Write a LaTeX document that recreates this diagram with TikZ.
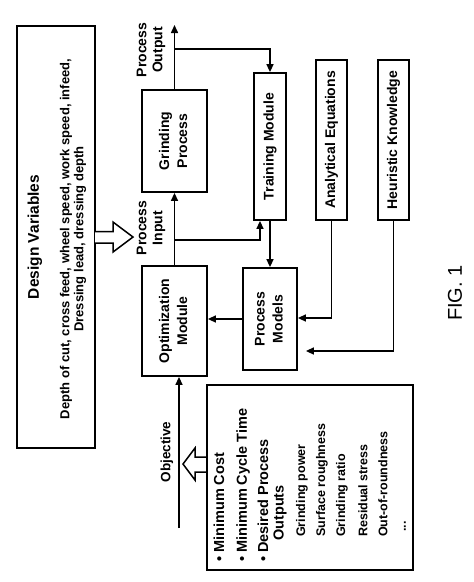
\documentclass[tikz,border=0pt]{standalone}
\usepackage{fontspec}
\setmainfont{Liberation Sans}
\usetikzlibrary{arrows.meta}
\begin{document}
\begin{tikzpicture}[x=1pt,y=-1pt,
  box/.style={draw, line width=1.8pt, inner sep=0pt, align=center,
    font=\bfseries\fontsize{14}{18}\selectfont},
  conn/.style={line width=1.5pt, -{Triangle[length=8pt,width=7pt]}},
  hollow/.style={line width=1.5pt, fill=white, line join=miter},
  rtext/.style={rotate=90, inner sep=0pt, align=center,
    font=\bfseries\fontsize{14}{16}\selectfont},
  litem/.style={rotate=90, inner sep=0pt, anchor=west,
    font=\bfseries\fontsize{14.5}{16}\selectfont},
  sitem/.style={rotate=90, inner sep=0pt, anchor=west,
    font=\bfseries\fontsize{12.5}{14}\selectfont}]
\useasboundingbox (0,0) rectangle (474,582);

% Design variables box
\node[box, minimum width=78pt, minimum height=422pt] (dv) at (56,237) {};
\node[rtext, font=\bfseries\fontsize{15.5}{17}\selectfont] (dvt) at (35,237) {Design Variables};
\node[rtext, font=\bfseries\fontsize{13}{14}\selectfont] (dvd) at (73,239)
  {Depth of cut, cross feed, wheel speed, work speed, infeed,\\Dressing lead, dressing depth};
\draw[hollow] (95,231.5) -- (113,231.5) -- (113,222) -- (133,237) -- (113,252) -- (113,243) -- (95,243);

% Main boxes
\node[box, minimum width=65pt, minimum height=102pt] (go) at (174.5,141)
  {\rotatebox{90}{\begin{tabular}{@{}c@{}}Grinding\\Process\end{tabular}}};
\node[box, minimum width=65pt, minimum height=110pt] (om) at (174.5,321)
  {\rotatebox{90}{\begin{tabular}{@{}c@{}}Optimization\\Module\end{tabular}}};
\node[box, minimum width=32pt, minimum height=147pt] (tm) at (270,146.5)
  {\rotatebox{90}{Training Module}};
\node[box, minimum width=54pt, minimum height=102pt] (pm) at (270,319)
  {\rotatebox{90}{\begin{tabular}{@{}c@{}}Process\\Models\end{tabular}}};
\node[box, minimum width=31pt, minimum height=160pt] (ae) at (331.5,140)
  {\rotatebox{90}{Analytical Equations}};
\node[box, minimum width=31pt, minimum height=160pt] (hk) at (393.5,140)
  {\rotatebox{90}{Heuristic Knowledge}};

% Labels
\node[rtext] (polab) at (151,50) {Process\\Output};
\node[rtext] (pilab) at (151,228) {Process\\Input};
\node[rtext, font=\bfseries\fontsize{13.5}{16}\selectfont] (objlab) at (167,452) {Objective};
\node[rotate=90, inner sep=0pt, font=\fontsize{20}{22}\selectfont] (fig) at (455,293) {FIG. 1};

% Connectors
\draw[conn] (om.north) -- (go.south);
\coordinate (pin) at (174.5,240);
\draw[conn] (pin) -| ([xshift=-10pt]tm.south);
\coordinate (pout) at (174.5,25);
\draw[conn] (go.north) -- (pout);
\coordinate (pbr) at (174.5,49);
\draw[conn] (pbr) -| (tm.north);
\draw[conn] (tm.south) -- (pm.north);
\draw[conn] (pm.west) -- (pm.west -| om.east);
\draw[conn] (ae.south) |- ([yshift=1pt]pm.east);
\draw[conn, shorten >=8pt] (hk.south) |- ([yshift=-32pt]pm.east);
\coordinate (objs) at (179,528);
\draw[conn] (objs) -- (objs |- om.south);

% Objective box
\draw[hollow] (207,457) -- (195,457) -- (195,448) -- (183,464) -- (195,480) -- (195,472) -- (207,472);
\node[box, minimum width=206pt, minimum height=185pt] (ob) at (310,477.5) {};
\node[litem] (l1) at (219,562) {\textbullet\ Minimum Cost};
\node[litem] (l2) at (243,562) {\textbullet\ Minimum Cycle Time};
\node[litem] (l3) at (263,562) {\textbullet\ Desired Process};
\node[litem] (l4) at (280,541) {Outputs};
\node[sitem] (s1) at (302,537) {Grinding power};
\node[sitem] (s2) at (322,537) {Surface roughness};
\node[sitem] (s3) at (342,537) {Grinding ratio};
\node[sitem] (s4) at (363,537) {Residual stress};
\node[sitem] (s5) at (383,537) {Out-of-roundness};
\node[sitem] (s6) at (405,532) {...};
\end{tikzpicture}
\end{document}
